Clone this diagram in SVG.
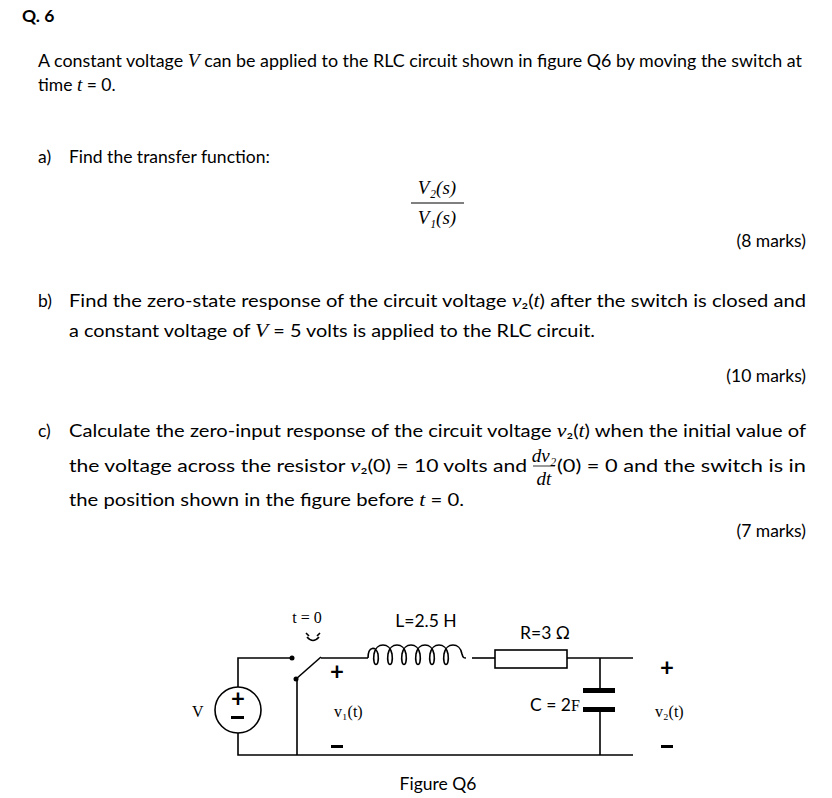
<svg xmlns="http://www.w3.org/2000/svg" width="832" height="798" viewBox="0 0 832 798">
<style>
text{font-family:Lato,"Liberation Sans",Arial,sans-serif;font-size:17.5px;fill:#000}
.m{font-family:"Liberation Serif","Times New Roman",serif;font-style:italic;font-size:19px}
.r{font-family:"Liberation Serif","Times New Roman",serif;font-size:16px}
.w{stroke:#000;stroke-width:1.6;fill:none}
.pm{font-weight:bold;font-size:24px}
</style>
<rect width="832" height="798" fill="#fff"/>
<text x="22" y="22" font-weight="bold">Q. 6</text>
<text x="38" y="67" textLength="764" lengthAdjust="spacingAndGlyphs">A constant voltage <tspan class="m">V</tspan> can be applied to the RLC circuit shown in figure Q6 by moving the switch at</text>
<text x="38" y="91">time <tspan class="m">t</tspan> = 0.</text>
<text x="38" y="163">a)</text><text x="69" y="163">Find the transfer function:</text>
<text class="m" x="437" y="194" text-anchor="middle" font-size="21">V₂(s)</text>
<line x1="411" y1="203" x2="464" y2="203" stroke="#000" stroke-width="1"/>
<text class="m" x="437" y="224" text-anchor="middle" font-size="21">V₁(s)</text>
<text x="806" y="247" text-anchor="end">(8 marks)</text>
<text x="38" y="307">b)</text>
<text x="69" y="307" textLength="737" lengthAdjust="spacingAndGlyphs">Find the zero-state response of the circuit voltage <tspan class="m">v</tspan>₂(<tspan class="m">t</tspan>) after the switch is closed and</text>
<text x="69" y="337" textLength="526" lengthAdjust="spacingAndGlyphs">a constant voltage of <tspan class="m">V</tspan> = 5 volts is applied to the RLC circuit.</text>
<text x="806" y="382" text-anchor="end">(10 marks)</text>
<text x="38" y="437">c)</text>
<text x="69" y="437" textLength="737" lengthAdjust="spacingAndGlyphs">Calculate the zero-input response of the circuit voltage <tspan class="m">v</tspan>₂(<tspan class="m">t</tspan>) when the initial value of</text>
<text x="69" y="472" textLength="458" lengthAdjust="spacingAndGlyphs">the voltage across the resistor <tspan class="m">v</tspan>₂(0) = 10 volts and</text>
<text class="m" x="544" y="462" text-anchor="middle" font-size="13">dv₂</text>
<line x1="533" y1="466" x2="555" y2="466" stroke="#000" stroke-width="0.8"/>
<text class="m" x="544" y="485" text-anchor="middle" font-size="13">dt</text>
<text x="557" y="472" textLength="249" lengthAdjust="spacingAndGlyphs">(0) = 0 and the switch is in</text>
<text x="69" y="506" textLength="395" lengthAdjust="spacingAndGlyphs">the position shown in the figure before <tspan class="m">t</tspan> = 0.</text>
<text x="806" y="537" text-anchor="end">(7 marks)</text>

<g id="wires" class="w">
<polyline points="238,687 238,658 292,658"/>
<polyline points="238,733 238,755 633,755"/>
<line x1="296" y1="679" x2="321" y2="657"/>
<polyline points="297,679 297,755"/>
<polyline points="321,658 368,658"/>
<polyline points="472,658 495,658"/>
<polyline points="567,658 633,658"/>
<polyline points="600,658 600,692"/>
<polyline points="600,708 600,755"/>
</g>
<g id="source">
<circle cx="238" cy="710" r="23" class="w"/>
<text x="238" y="707" text-anchor="middle" class="pm">+</text>
<rect x="231" y="716" width="13" height="3" fill="#000"/>
<text class="r" x="192" y="717" font-size="17">V</text>
</g>
<g id="switch">
<circle cx="292" cy="658" r="2.5" fill="#000"/>
<circle cx="296" cy="679" r="2.5" fill="#000"/>
<path d="M307,637 q6,7 12,0 M306,633 l3,3 M320,633 l-3,3" class="w" stroke-width="1.2"/>
<text class="r" x="307" y="623" text-anchor="middle">t = 0</text>
</g>
<g id="inductor">
<path d="M368,658 c0,-12 8,-12 10,-4 c2,14 -6,14 -4,0 c2,-12 16,-12 18,0 c2,14 -6,14 -4,0 c2,-12 16,-12 18,0 c2,14 -6,14 -4,0 c2,-12 16,-12 18,0 c2,14 -6,14 -4,0 c2,-12 16,-12 18,0 c2,14 -6,14 -4,0 c2,-12 16,-12 18,0 c2,14 -6,14 -4,0 c2,-12 16,-12 18,0 c1,4 2,4 4,4" class="w" stroke-width="1.3"/>
<text x="426" y="627" text-anchor="middle">L=2.5 H</text>
</g>
<g id="resistor">
<rect x="495" y="650" width="72" height="18" class="w" stroke-width="2.2"/>
<text x="545" y="639" text-anchor="middle">R=3 Ω</text>
</g>
<g id="capacitor">
<rect x="583" y="688" width="32" height="5" fill="#000"/>
<rect x="583" y="707" width="32" height="5" fill="#000"/>
<text x="530" y="711">C = 2<tspan class="r" font-size="20">F</tspan></text>
</g>
<g id="labels">
<text x="337" y="680" text-anchor="middle" class="pm">+</text>
<rect x="331" y="745" width="12" height="3" fill="#000"/>
<text class="r" x="334" y="717">v₁(t)</text>
<text x="667" y="676" text-anchor="middle" class="pm">+</text>
<rect x="661" y="745" width="12" height="3" fill="#000"/>
<text class="r" x="655" y="717">v₂(t)</text>
</g>
<text x="438" y="790" text-anchor="middle">Figure Q6</text>
</svg>
